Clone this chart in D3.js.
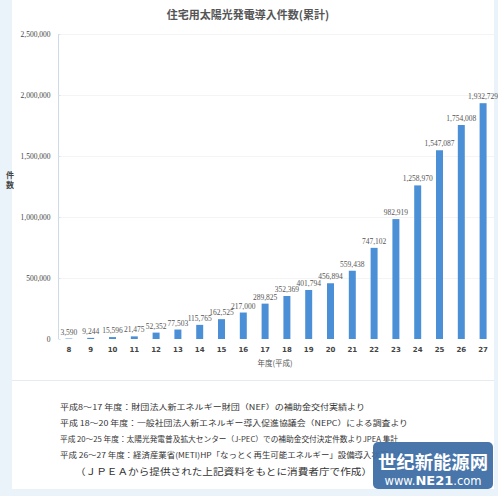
<!DOCTYPE html>
<html><head><meta charset="utf-8">
<script src="https://cdn.jsdelivr.net/npm/d3@7"></script>
<style>html,body{margin:0;padding:0;background:#eaf3fa;}svg{display:block;}</style>
</head><body>
<svg id="chart" width="498" height="496"></svg>
<script>
const categories = ["8","9","10","11","12","13","14","15","16","17","18","19","20","21","22","23","24","25","26","27"];
const values = [3590,9244,15596,21475,52352,77503,115765,162525,217000,289825,352369,401794,456894,559438,747102,982919,1258970,1547087,1754008,1932729];
const yTicks = [0,500000,1000000,1500000,2000000,2500000];
const title = "住宅用太陽光発電導入件数(累計)";
const yLabel = ["件","数"];
const xLabel = "年度(平成)";
const notes = [
  "平成8～17 年度：財団法人新エネルギー財団（NEF）の補助金交付実績より",
  "平成 18～20 年度：一般社団法人新エネルギー導入促進協議会（NEPC）による調査より",
  "平成 20～25 年度：太陽光発電普及拡大センター（J-PEC）での補助金交付決定件数よりJPEA 集計",
  "平成 26～27 年度：経済産業省(METI)HP「なっとく再生可能エネルギー」設備導入状況より",
  "（ＪＰＥＡから提供された上記資料をもとに消費者庁で作成）"
];
const noteLen = [305, 348, 338, 345, 297];
const noteX = [60, 60, 60, 60, 75];

const svg = d3.select("#chart");
const cjk = "'Noto Sans CJK JP','Noto Sans',sans-serif";

// panels
svg.append("rect").attr("x",12).attr("y",0).attr("width",482).attr("height",380).attr("fill","#ffffff");
svg.append("rect").attr("x",12).attr("y",381).attr("width",482).attr("height",108).attr("fill","#ffffff");
svg.append("line").attr("x1",12).attr("x2",494).attr("y1",380.5).attr("y2",380.5).attr("stroke","#e6ebf0");

const x = d3.scaleBand().domain(categories).range([58,494]).paddingInner(0.68).paddingOuter(0.34);
const y = d3.scaleLinear().domain([0,2500000]).range([339,34]);

// gridlines
svg.append("g").selectAll("line").data(yTicks.slice(1)).join("line")
  .attr("x1",58).attr("x2",494).attr("y1",d=>Math.round(y(d))+0.5).attr("y2",d=>Math.round(y(d))+0.5)
  .attr("stroke","#f4f4f4");

// y axis
const ya = svg.append("g").attr("transform","translate(58.5,0)")
  .call(d3.axisLeft(y).tickValues(yTicks).tickFormat(d3.format(",")).tickSize(-2).tickPadding(8));
ya.select(".domain").attr("stroke","#cddbe8").attr("d","M0,34V339");
ya.selectAll(".tick line").attr("stroke","#d8e2ec");
ya.selectAll("text").attr("font-family","'Liberation Serif',serif").attr("font-size",7.5).attr("fill","#444");

// x axis
const xa = svg.append("g").attr("transform","translate(0,339)")
  .call(d3.axisBottom(x).tickSize(0).tickPadding(8));
xa.select(".domain").remove();
xa.selectAll("text").attr("font-family","'DejaVu Sans',sans-serif").attr("font-size",7).attr("font-weight","bold").attr("fill","#444");

// bars
svg.append("g").selectAll("rect").data(values).join("rect")
  .attr("x",(d,i)=>x(categories[i])).attr("width",x.bandwidth())
  .attr("y",d=>y(d)).attr("height",d=>y(0)-y(d)).attr("fill","#4b8fd6");

// value labels
svg.append("g").selectAll("text").data(values).join("text")
  .attr("x",(d,i)=>x(categories[i])+x.bandwidth()/2).attr("y",d=>y(d)-4)
  .attr("text-anchor","middle").attr("font-family","'Liberation Serif',serif").attr("font-size",7.5).attr("fill","#555")
  .text(d=>d3.format(",")(d));

// title
svg.append("text").attr("x",248).attr("y",19).attr("text-anchor","middle")
  .attr("font-family",cjk).attr("font-size",11).attr("font-weight","bold").attr("fill","#555").text(title);

// y label vertical
svg.append("g").selectAll("text").data(yLabel).join("text")
  .attr("x",10).attr("y",(d,i)=>178+i*10).attr("text-anchor","middle")
  .attr("font-family",cjk).attr("font-size",8).attr("font-weight","bold").attr("fill","#444").text(d=>d);

// x label
svg.append("text").attr("x",275).attr("y",366).attr("text-anchor","middle")
  .attr("font-family",cjk).attr("font-size",7.5).attr("fill","#555").text(xLabel);

// notes
svg.append("g").selectAll("text").data(notes).join("text")
  .attr("x",(d,i)=>noteX[i]).attr("y",(d,i)=>[410,426,442,458,475][i])
  .attr("textLength",(d,i)=>noteLen[i]).attr("lengthAdjust","spacingAndGlyphs")
  .attr("font-family",cjk).attr("font-size",(d,i)=>i===4?9:7.5).attr("fill","#333").text(d=>d);

// watermark
const wm = svg.append("g");
wm.append("rect").attr("x",373).attr("y",442).attr("width",120).attr("height",47).attr("rx",5)
  .attr("fill","#3e6fa6").attr("opacity",0.95);
wm.append("text").attr("x",433).attr("y",469).attr("text-anchor","middle")
  .attr("font-family","'Noto Sans CJK SC',sans-serif").attr("font-size",18).attr("font-weight","bold").attr("fill","#fff")
  .attr("textLength",110).attr("lengthAdjust","spacingAndGlyphs").text("世纪新能源网");
const w2 = wm.append("text").attr("x",433).attr("y",485).attr("text-anchor","middle")
  .attr("font-family","'DejaVu Sans',sans-serif").attr("font-size",11.5).attr("fill","#fff");
w2.append("tspan").text("www.");
w2.append("tspan").attr("font-weight","bold").attr("font-size",13).text("NE21");
w2.append("tspan").text(".com");
</script>
</body></html>
